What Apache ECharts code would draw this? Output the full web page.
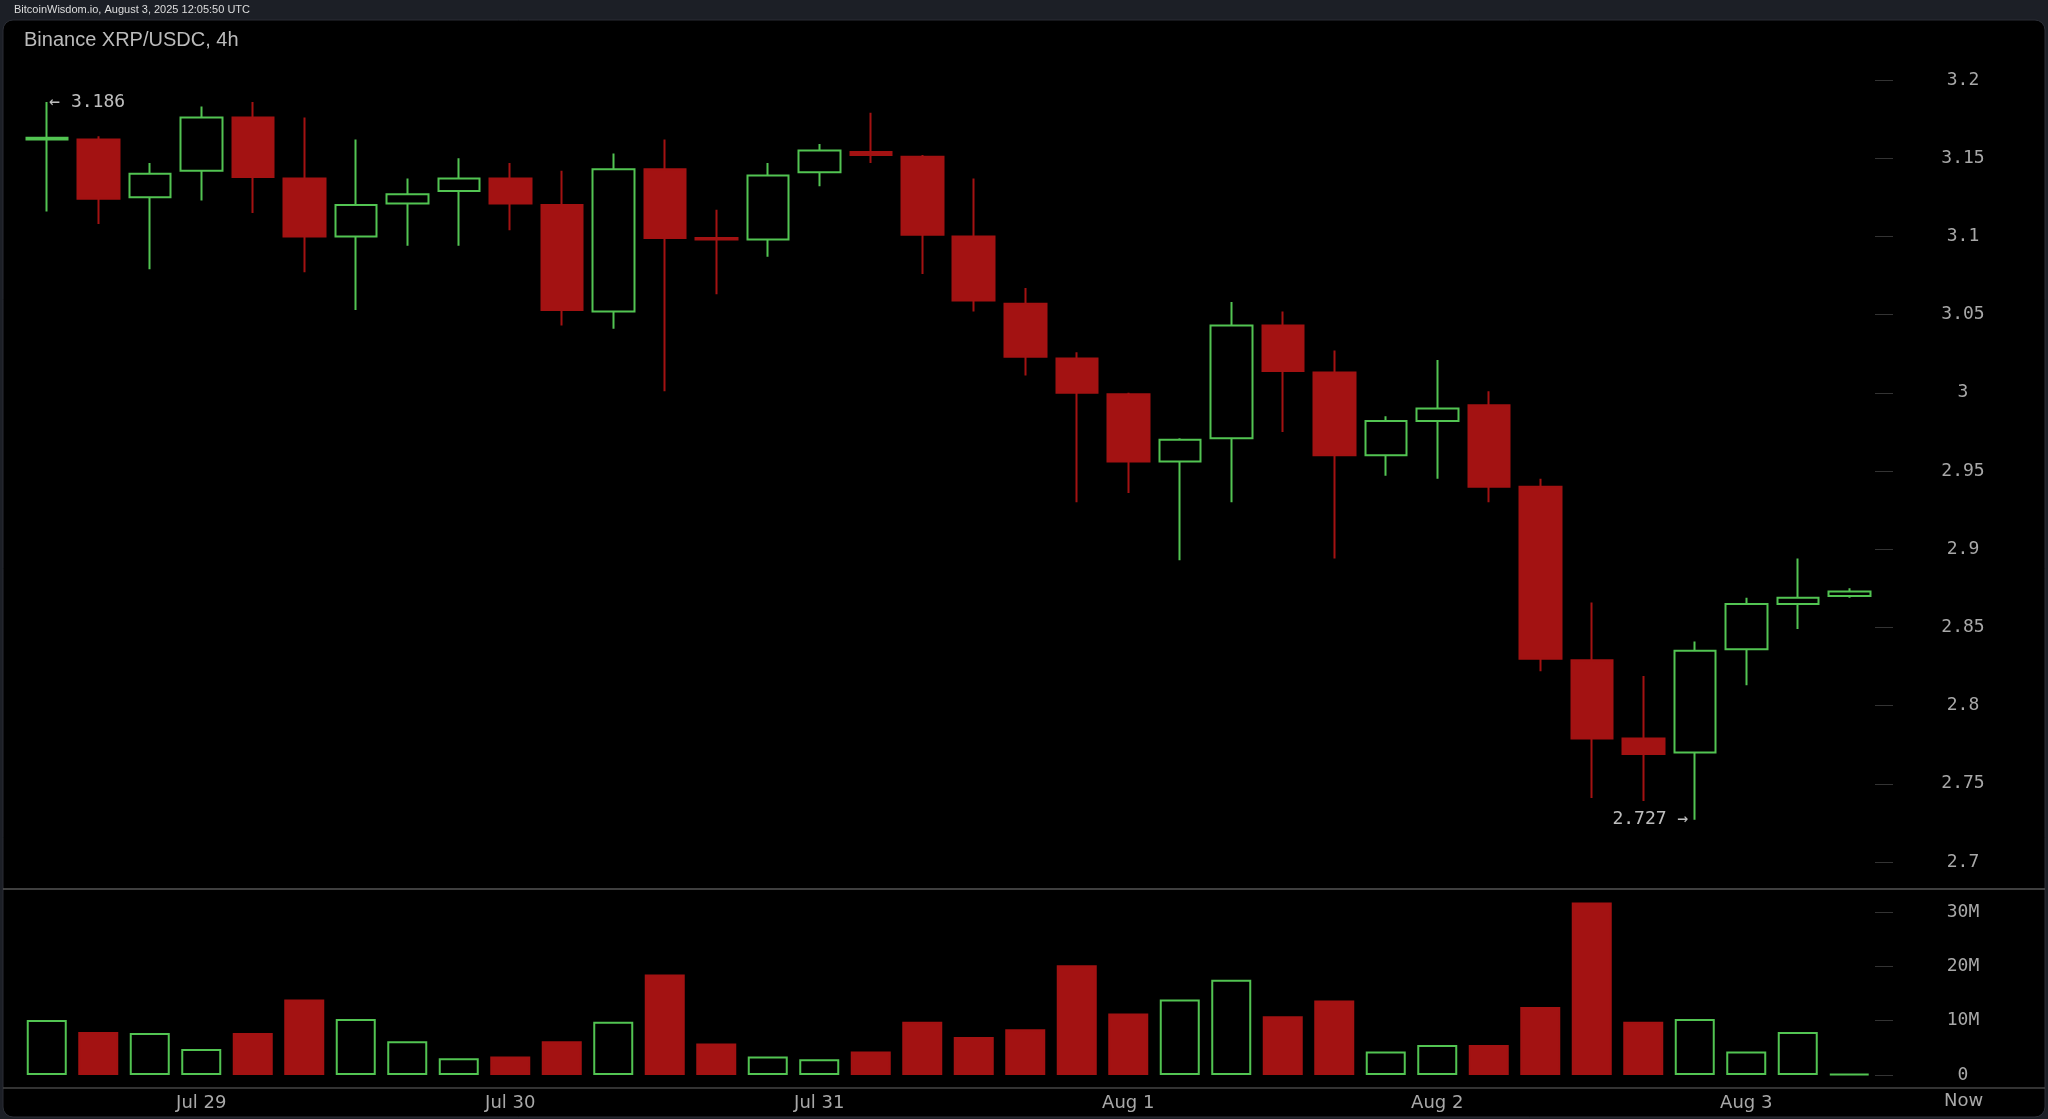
<!DOCTYPE html>
<html><head><meta charset="utf-8">
<script src="https://cdn.jsdelivr.net/npm/echarts@6/dist/echarts.min.js"></script>
<style>html,body{margin:0;padding:0;background:#1c1f26;}#c{width:2048px;height:1119px;}</style>
</head><body><div id="c"></div>
<script>
const categories = ['07-28 12:00','07-28 16:00','07-28 20:00','07-29 00:00','07-29 04:00','07-29 08:00','07-29 12:00','07-29 16:00','07-29 20:00',
'07-30 00:00','07-30 04:00','07-30 08:00','07-30 12:00','07-30 16:00','07-30 20:00','07-31 00:00','07-31 04:00','07-31 08:00','07-31 12:00','07-31 16:00','07-31 20:00',
'08-01 00:00','08-01 04:00','08-01 08:00','08-01 12:00','08-01 16:00','08-01 20:00','08-02 00:00','08-02 04:00','08-02 08:00','08-02 12:00','08-02 16:00','08-02 20:00',
'08-03 00:00','08-03 04:00','08-03 08:00'];
const dateLabels = {3:'Jul 29',9:'Jul 30',15:'Jul 31',21:'Aug 1',27:'Aug 2',33:'Aug 3'};
// [open, close, low, high]
const ohlc = [
[3.162,3.163,3.116,3.186],[3.162,3.124,3.108,3.164],[3.125,3.140,3.079,3.147],[3.142,3.176,3.123,3.183],
[3.176,3.138,3.115,3.186],[3.137,3.100,3.077,3.176],[3.100,3.120,3.053,3.162],[3.121,3.127,3.094,3.137],
[3.129,3.137,3.094,3.150],[3.137,3.121,3.104,3.147],[3.120,3.053,3.043,3.142],[3.052,3.143,3.041,3.153],
[3.143,3.099,3.001,3.162],[3.099,3.098,3.063,3.117],[3.098,3.139,3.087,3.147],[3.141,3.155,3.132,3.159],
[3.154,3.152,3.147,3.179],[3.151,3.101,3.076,3.152],[3.100,3.059,3.052,3.137],[3.057,3.023,3.011,3.067],
[3.022,3.000,2.930,3.026],[2.999,2.956,2.936,3.000],[2.956,2.970,2.893,2.971],[2.971,3.043,2.930,3.058],
[3.043,3.014,2.975,3.052],[3.013,2.960,2.894,3.027],[2.960,2.982,2.947,2.985],[2.982,2.990,2.945,3.021],
[2.992,2.940,2.930,3.001],[2.940,2.830,2.822,2.945],[2.829,2.779,2.741,2.866],[2.779,2.769,2.739,2.819],
[2.770,2.835,2.727,2.841],[2.836,2.865,2.813,2.869],[2.865,2.869,2.849,2.894],[2.870,2.873,2.869,2.875]];
const volumeM = [10.1,7.9,7.7,4.8,7.7,13.9,10.3,6.2,3.1,3.4,6.2,9.8,18.5,5.8,3.4,2.9,4.3,9.8,7.0,8.4,
20.2,11.3,13.9,17.5,10.8,13.7,4.3,5.5,5.5,12.5,31.7,9.8,10.3,4.3,7.9,0.2];
const priceTicks = {min:2.7,max:3.2,interval:0.05};
const extremes = [{idx:0,value:3.186,text:'← 3.186',side:'right'},{idx:32,value:2.727,text:'2.727 →',side:'left'}];

const GREEN='#52c452', RED='#a31212', LBL='#a8a8a8', MONO='DejaVu Sans Mono';
const vol = volumeM.map((v,i)=>{const up = ohlc[i][1]>=ohlc[i][0];
  return {value:v*1e6,itemStyle: up?{color:'#000',borderColor:GREEN,borderWidth:2}:{color:RED,borderColor:RED,borderWidth:2}};});

const chart = echarts.init(document.getElementById('c'));
chart.setOption({
  backgroundColor:'#1c1f26', animation:false,
  graphic:[
    {type:'rect',shape:{x:3,y:20,width:2042,height:1097,r:10},style:{fill:'#000',stroke:'#2a2d35'},z:-10},
    {type:'line',shape:{x1:3,y1:889,x2:2045,y2:889},style:{stroke:'#555',lineWidth:1.5},z:5},
    {type:'line',shape:{x1:3,y1:1088,x2:2045,y2:1088},style:{stroke:'#444',lineWidth:1.5},z:5},
    {type:'text',left:14,top:4,style:{text:'BitcoinWisdom.io, August 3, 2025 12:05:50 UTC',fill:'#ddd',font:'11px Liberation Sans'}},
    {type:'text',left:24,top:30,style:{text:'Binance XRP/USDC, 4h',fill:'#bbb',font:'20px Liberation Sans'}},
    {type:'text',left:1944,top:1092,style:{text:'Now',fill:LBL,font:'18px DejaVu Sans'}}
  ],
  grid:[{left:21,right:173,top:80,bottom:1119-862},{left:21,right:173,top:889,bottom:1119-1075}],
  xAxis:[
    {type:'category',data:categories,gridIndex:0,boundaryGap:true,axisLine:{show:false},axisTick:{show:false},axisLabel:{show:false},splitLine:{show:false}},
    {type:'category',data:categories,gridIndex:1,boundaryGap:true,axisLine:{show:false},axisTick:{show:false},
     axisLabel:{interval:0,margin:19,color:LBL,fontFamily:'DejaVu Sans',fontSize:18,formatter:(v,i)=>dateLabels[i]||''},splitLine:{show:false}}
  ],
  yAxis:[
    {type:'value',gridIndex:0,position:'right',min:priceTicks.min,max:priceTicks.max,interval:priceTicks.interval,
     axisLine:{show:false},axisTick:{show:true,length:18,lineStyle:{color:'#333'}},splitLine:{show:false},
     axisLabel:{margin:88,align:'center',color:LBL,fontFamily:MONO,fontSize:18}},
    {type:'value',gridIndex:1,position:'right',min:0,max:34.2e6,interval:10e6,
     axisLine:{show:false},axisTick:{show:true,length:18,lineStyle:{color:'#333'}},splitLine:{show:false},
     axisLabel:{margin:88,align:'center',color:LBL,fontFamily:MONO,fontSize:18,showMaxLabel:false,formatter:v=>v===0?'0':(v/1e6)+'M'}}
  ],
  series:[
    {type:'candlestick',xAxisIndex:0,yAxisIndex:0,data:ohlc,barWidth:42,
     itemStyle:{color:'#000',color0:RED,borderColor:GREEN,borderColor0:RED,borderWidth:2}},
    {type:'scatter',xAxisIndex:0,yAxisIndex:0,symbolSize:1,itemStyle:{color:'rgba(0,0,0,0)'},z:10,
     data:extremes.map(e=>({value:[e.idx,e.value],label:{show:true,formatter:e.text,position:e.side,
       distance:e.side==='right'?2:6,color:'#eee',fontFamily:MONO,fontSize:18}}))},
    {type:'bar',xAxisIndex:1,yAxisIndex:1,data:vol,barWidth:40}
  ]
});
</script></body></html>
